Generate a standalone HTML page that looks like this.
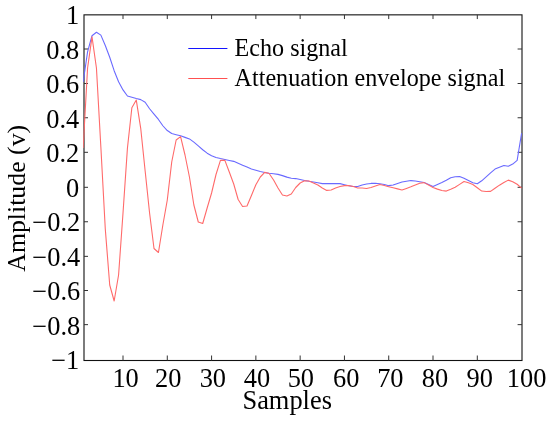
<!DOCTYPE html><html><head><meta charset="utf-8"><style>html,body{margin:0;padding:0;background:#fff;width:550px;height:422px;overflow:hidden}svg{display:block}</style></head><body><svg width="550" height="422" viewBox="0 0 550 422"><rect x="0" y="0" width="550" height="422" fill="#fff"/>
<g stroke="#111" stroke-width="1.1" fill="none"><rect x="84.0" y="14.85" width="438.0" height="345.65" fill="none"/></g>
<g stroke="#333" stroke-width="1" fill="none"><line x1="123.01" y1="360.5" x2="123.01" y2="355.5"/><line x1="123.01" y1="14.85" x2="123.01" y2="19.05"/><line x1="167.29" y1="360.5" x2="167.29" y2="355.5"/><line x1="167.29" y1="14.85" x2="167.29" y2="19.05"/><line x1="211.58" y1="360.5" x2="211.58" y2="355.5"/><line x1="211.58" y1="14.85" x2="211.58" y2="19.05"/><line x1="255.87" y1="360.5" x2="255.87" y2="355.5"/><line x1="255.87" y1="14.85" x2="255.87" y2="19.05"/><line x1="300.15" y1="360.5" x2="300.15" y2="355.5"/><line x1="300.15" y1="14.85" x2="300.15" y2="19.05"/><line x1="344.44" y1="360.5" x2="344.44" y2="355.5"/><line x1="344.44" y1="14.85" x2="344.44" y2="19.05"/><line x1="388.72" y1="360.5" x2="388.72" y2="355.5"/><line x1="388.72" y1="14.85" x2="388.72" y2="19.05"/><line x1="433.01" y1="360.5" x2="433.01" y2="355.5"/><line x1="433.01" y1="14.85" x2="433.01" y2="19.05"/><line x1="477.30" y1="360.5" x2="477.30" y2="355.5"/><line x1="477.30" y1="14.85" x2="477.30" y2="19.05"/><line x1="84.0" y1="324.65" x2="88.0" y2="324.65"/><line x1="522.0" y1="324.65" x2="517.6" y2="324.65"/><line x1="84.0" y1="290.50" x2="88.0" y2="290.50"/><line x1="522.0" y1="290.50" x2="517.6" y2="290.50"/><line x1="84.0" y1="256.35" x2="88.0" y2="256.35"/><line x1="522.0" y1="256.35" x2="517.6" y2="256.35"/><line x1="84.0" y1="221.75" x2="88.0" y2="221.75"/><line x1="522.0" y1="221.75" x2="517.6" y2="221.75"/><line x1="84.0" y1="187.30" x2="88.0" y2="187.30"/><line x1="522.0" y1="187.30" x2="517.6" y2="187.30"/><line x1="84.0" y1="152.30" x2="88.0" y2="152.30"/><line x1="522.0" y1="152.30" x2="517.6" y2="152.30"/><line x1="84.0" y1="117.75" x2="88.0" y2="117.75"/><line x1="522.0" y1="117.75" x2="517.6" y2="117.75"/><line x1="84.0" y1="83.50" x2="88.0" y2="83.50"/><line x1="522.0" y1="83.50" x2="517.6" y2="83.50"/><line x1="84.0" y1="49.00" x2="88.0" y2="49.00"/><line x1="522.0" y1="49.00" x2="517.6" y2="49.00"/></g>
<defs><clipPath id="c"><rect x="83.15" y="14.85" width="439.15000000000003" height="345.65"/></clipPath></defs>
<g clip-path="url(#c)" fill="none" stroke-width="1.1" stroke-linejoin="round">
<polyline stroke="#6a6aff" points="83.15,81.97 87.58,51.82 92.01,35.69 96.44,32.30 100.86,35.15 105.29,45.48 109.72,57.29 114.15,70.69 118.58,81.72 123.01,89.93 127.44,96.02 131.86,97.26 136.29,98.50 140.72,99.61 145.15,102.30 149.58,108.76 154.01,114.14 158.44,119.45 162.86,125.75 167.29,130.53 171.72,133.56 176.15,134.68 180.58,135.83 185.01,137.37 189.44,138.90 193.87,142.12 198.29,145.88 202.72,149.74 207.15,153.15 211.58,155.67 216.01,157.42 220.44,158.58 224.87,159.54 229.29,160.43 233.72,161.35 238.15,163.30 242.58,165.24 247.01,167.10 251.44,168.95 255.87,170.29 260.29,171.56 264.72,172.42 269.15,173.22 273.58,173.79 278.01,174.36 282.44,175.63 286.87,177.14 291.29,178.29 295.72,178.58 300.15,179.51 304.58,180.47 309.01,181.29 313.44,181.92 317.87,182.77 322.29,183.60 326.72,183.60 331.15,183.60 335.58,183.60 340.01,183.60 344.44,184.71 348.87,185.75 353.29,186.53 357.72,186.44 362.15,185.00 366.58,184.04 371.01,183.42 375.44,183.20 379.87,183.82 384.29,184.48 388.72,185.66 393.15,184.95 397.58,183.47 402.01,182.00 406.44,181.29 410.87,180.58 415.30,180.95 419.72,181.69 424.15,182.47 428.58,184.44 433.01,186.40 437.44,184.46 441.87,182.53 446.30,180.28 450.72,177.73 455.15,176.76 459.58,176.43 464.01,178.34 468.44,180.53 472.87,182.77 477.30,183.82 481.72,180.79 486.15,176.87 490.58,172.80 495.01,169.06 499.44,167.30 503.87,165.55 508.30,166.32 512.72,164.11 517.15,160.38 521.58,133.23"/>
<polyline stroke="#ff6a6a" points="83.15,148.00 87.58,68.00 92.01,36.80 96.44,68.00 100.86,147.00 105.29,229.00 109.72,285.00 114.15,301.00 118.58,275.00 123.01,213.00 127.44,148.00 131.86,107.80 136.29,100.10 140.72,128.30 145.15,171.00 149.58,213.00 154.01,248.50 158.44,252.50 162.86,225.00 167.29,200.00 171.72,162.00 176.15,140.00 180.58,136.60 185.01,155.00 189.44,177.00 193.87,205.00 198.29,222.00 202.72,223.50 207.15,208.00 211.58,193.00 216.01,174.50 220.44,160.40 224.87,160.40 229.29,172.00 233.72,184.00 238.15,199.50 242.58,206.50 247.01,206.00 251.44,195.50 255.87,184.70 260.29,177.00 264.72,172.40 269.15,173.50 273.58,180.00 278.01,188.00 282.44,195.00 286.87,196.00 291.29,194.00 295.72,187.50 300.15,183.00 304.58,180.80 309.01,181.00 313.44,183.00 317.87,185.00 322.29,188.00 326.72,190.40 331.15,190.00 335.58,188.00 340.01,186.50 344.44,185.60 348.87,185.60 353.29,186.50 357.72,188.00 362.15,188.02 366.58,188.46 371.01,187.55 375.44,186.00 379.87,184.45 384.29,185.52 388.72,186.67 393.15,187.79 397.58,188.90 402.01,190.00 406.44,188.40 410.87,186.81 415.30,185.08 419.72,183.31 424.15,182.63 428.58,185.04 433.01,187.46 437.44,189.13 441.87,190.57 446.30,191.08 450.72,189.31 455.15,187.25 459.58,184.39 464.01,181.52 468.44,182.78 472.87,184.50 477.30,187.78 481.72,191.07 486.15,191.50 490.58,191.37 495.01,188.27 499.44,185.17 503.87,182.57 508.30,180.11 512.72,181.69 517.15,184.25 521.58,188.13"/>
</g>
<g font-family="Liberation Serif, Times New Roman, serif" font-size="26.4" fill="#000"><text x="79.30" y="369.40" text-anchor="end">−1</text><text x="80.20" y="334.88" text-anchor="end">−0.8</text><text x="80.20" y="300.36" text-anchor="end">−0.6</text><text x="80.20" y="265.84" text-anchor="end">−0.4</text><text x="80.20" y="231.32" text-anchor="end">−0.2</text><text x="79.30" y="196.80" text-anchor="end">0</text><text x="79.30" y="162.28" text-anchor="end">0.2</text><text x="79.30" y="127.76" text-anchor="end">0.4</text><text x="79.30" y="93.24" text-anchor="end">0.6</text><text x="79.30" y="58.72" text-anchor="end">0.8</text><text x="79.30" y="24.20" text-anchor="end">1</text><text x="125.60" y="386.9" text-anchor="middle">10</text><text x="168.14" y="386.9" text-anchor="middle">20</text><text x="212.88" y="386.9" text-anchor="middle">30</text><text x="257.02" y="386.9" text-anchor="middle">40</text><text x="300.86" y="386.9" text-anchor="middle">50</text><text x="346.30" y="386.9" text-anchor="middle">60</text><text x="390.34" y="386.9" text-anchor="middle">70</text><text x="434.98" y="386.9" text-anchor="middle">80</text><text x="479.72" y="386.9" text-anchor="middle">90</text><text x="526.56" y="386.9" text-anchor="middle">100</text><text x="287.2" y="409.0" text-anchor="middle">Samples</text><text transform="translate(24.6,198.3) rotate(-90)" text-anchor="middle" font-size="25.8">Amplitude (v)</text></g>
<line x1="188.3" y1="48.5" x2="227.4" y2="48.5" stroke="#1414ff" stroke-width="1.1"/><line x1="188.3" y1="78.5" x2="227.4" y2="78.5" stroke="#ff5050" stroke-width="1.1"/><g font-family="Liberation Serif, Times New Roman, serif" font-size="24" fill="#000"><text transform="translate(234.6,55.5) scale(1.005,1.05)">Echo signal</text><text transform="translate(234.6,85.6) scale(1.005,1.05)">Attenuation envelope signal</text></g></svg></body></html>
